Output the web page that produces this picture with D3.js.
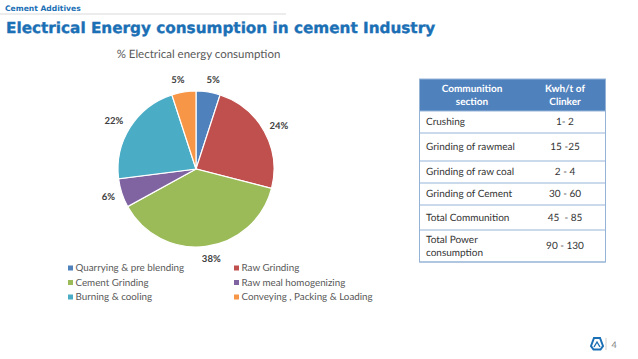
<!DOCTYPE html>
<html lang="en">
<head>
<meta charset="utf-8">
<script src="https://d3js.org/d3.v7.min.js"></script>
<style>
  body { margin: 0; background: #fff; }
  svg { display: block; }
  text { font-family: Lato, sans-serif; text-rendering: geometricPrecision; }
</style>
</head>
<body>
<svg width="638" height="359"></svg>
<script>
// chart data
var sections = ['Quarrying & pre blending', 'Raw Grinding', 'Cement Grinding', 'Raw meal homogenizing', 'Burning & cooling', 'Conveying , Packing & Loading'];
var shares = [5, 24, 38, 6, 22, 5];
var colours = ['#4f81bd', '#c0504d', '#9bbb59', '#8064a2', '#4bacc6', '#f79646'];

// table data
var tableHead = [['Communition', 'section'], ['Kwh/t of', 'Clinker']];
var tableNames = [['Crushing'], ['Grinding of rawmeal'], ['Grinding of raw coal'], ['Grinding of Cement'], ['Total Communition'], ['Total Power', 'consumption']];
var tableValues = ['1- 2', '15 -25', '2 - 4', '30 - 60', '45  - 85', '90 - 130'];
var rowLines = [111, 133, 161, 183, 205, 230, 262];

var svg = d3.select('svg');
var blue = '#1a6fb5';

// page header
svg.append('text').attr('x', 5).attr('y', 11).attr('fill', blue)
  .style('font-family', 'DejaVu Sans').style('font-size', '7.6px').style('font-weight', 700)
  .text('Cement Additives');
svg.append('line').attr('x1', 0).attr('x2', 286).attr('y1', 14).attr('y2', 14)
  .attr('stroke', '#d9d9d9').attr('stroke-width', 1);
svg.append('text').attr('x', 6).attr('y', 32.5).attr('fill', blue)
  .attr('stroke', blue).attr('stroke-width', 0.35)
  .style('font-family', 'DejaVu Sans').style('font-size', '15.25px').style('font-weight', 700)
  .text('Electrical Energy consumption in cement Industry');

svg.append('text').attr('x', 198.5).attr('y', 58).attr('text-anchor', 'middle')
  .attr('fill', '#595959').style('font-size', '11.5px')
  .text('% Electrical energy consumption');

// pie
var colour = d3.scaleOrdinal().domain(sections).range(colours);
var pie = d3.pie().sort(null);
var arc = d3.arc().innerRadius(0).outerRadius(78);
var labelArc = d3.arc().innerRadius(90).outerRadius(90);
var labelNudge = [3, 4, 4, -2, -6, -4];
var g = svg.append('g').attr('transform', 'translate(196,169)');

g.selectAll('path').data(pie(shares)).enter().append('path')
  .attr('d', arc)
  .attr('fill', function(d, i) { return colour(sections[i]); })
  .attr('stroke', '#fff').attr('stroke-width', 1.2);

g.selectAll('text').data(pie(shares)).enter().append('text')
  .attr('transform', function(d) { return 'translate(' + labelArc.centroid(d) + ')'; })
  .attr('dx', function(d, i) { return labelNudge[i]; })
  .attr('text-anchor', 'middle').attr('dy', '0.35em')
  .attr('fill', '#404040').style('font-size', '9.5px').style('font-weight', 700)
  .text(function(d) { return d.data + '%'; });

// legend, two columns
var legendX = d3.scalePoint().domain([0, 1]).range([68, 234]);
var legendY = d3.scalePoint().domain([0, 1, 2]).range([268, 297]);
var legend = svg.selectAll('.legend').data(sections).enter().append('g')
  .attr('class', 'legend')
  .attr('transform', function(d, i) { return 'translate(' + legendX(i % 2) + ',' + legendY(Math.floor(i / 2)) + ')'; });
legend.append('rect').attr('x', 0).attr('y', -2.5).attr('width', 5).attr('height', 5)
  .attr('fill', function(d) { return colour(d); });
legend.append('text').attr('x', 7.5).attr('dy', '0.35em')
  .attr('fill', '#595959').style('font-size', '9.8px')
  .text(function(d) { return d; });

// table
var tableLeft = 419.5, tableRight = 605.5;
var tableText = '#333';
svg.append('rect').attr('x', tableLeft).attr('y', 79).attr('width', tableRight - tableLeft).attr('height', rowLines[0] - 79)
  .attr('fill', '#4f81bd');
svg.selectAll('.rowline').data(rowLines).enter().append('line')
  .attr('class', 'rowline')
  .attr('x1', tableLeft).attr('x2', tableRight)
  .attr('y1', function(d) { return d; }).attr('y2', function(d) { return d; })
  .attr('stroke', '#95b3d7').attr('stroke-width', 1);
svg.append('rect').attr('x', tableLeft).attr('y', 79).attr('width', tableRight - tableLeft).attr('height', 183)
  .attr('fill', 'none').attr('stroke', '#95b3d7').attr('stroke-width', 1);

function cell(lines, x, cy, anchor, fill, weight) {
  var t = svg.append('text').attr('text-anchor', anchor).attr('fill', fill)
    .style('font-size', '10px').style('font-weight', weight);
  lines.forEach(function(line, i) {
    t.append('tspan').attr('x', x)
      .attr('y', cy + (i - (lines.length - 1) / 2) * 13 + 3.4)
      .attr('xml:space', 'preserve')
      .text(line);
  });
}

cell(tableHead[0], 472, 95, 'middle', '#fff', 700);
cell(tableHead[1], 565, 95, 'middle', '#fff', 700);
tableNames.forEach(function(name, i) {
  var cy = (rowLines[i] + rowLines[i + 1]) / 2;
  cell(name, 426, cy, 'start', tableText, 400);
  cell([tableValues[i]], 565, cy, 'middle', tableText, 400);
});

// footer logo and page number
var logo = svg.append('g').attr('transform', 'translate(597,344)');
logo.append('path')
  .attr('d', 'M-3,-6 L3,-6 L6,2 L3.5,5.5 L-3.5,5.5 L-6,2 Z')
  .attr('fill', 'none').attr('stroke', '#1a6fb5').attr('stroke-width', 2);
logo.append('path').attr('d', 'M-3,3 L0,-2 L3,3').attr('fill', 'none').attr('stroke', '#1a6fb5').attr('stroke-width', 1.4);
svg.append('line').attr('x1', 606).attr('x2', 606).attr('y1', 338).attr('y2', 350).attr('stroke', '#d0d0d0');
svg.append('text').attr('x', 614).attr('y', 348).attr('text-anchor', 'middle')
  .attr('fill', '#808080').style('font-size', '9px').text('4');
</script>
</body>
</html>
